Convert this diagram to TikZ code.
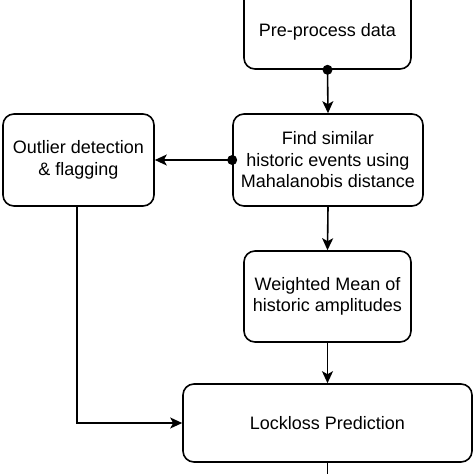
\documentclass[tikz,border=0pt]{standalone}
\usepackage{fontspec}
\setmainfont{Liberation Sans}
\usetikzlibrary{arrows.meta}
\begin{document}
\begin{tikzpicture}[x=1pt,y=-1pt,
  txt/.style={font=\fontsize{18}{21.5}\selectfont},
  box/.style={draw,line width=1.6pt,rounded corners=11pt,align=center,txt},
  conn/.style={line width=1.6pt,-{Stealth[length=12pt,width=11pt,inset=3pt]}},
  plain/.style={line width=1.6pt}]
\useasboundingbox (0,0) rectangle (474,474);
\node[box,minimum width=167pt,minimum height=84pt] (pre) at (327.5,27) {};
\node[txt] (pret) at (327.5,32) {Pre-process data};
\node[box,minimum width=190pt,minimum height=92pt] (find) at (328,160) {Find similar\\historic events using\\Mahalanobis distance};
\node[box,minimum width=151pt,minimum height=92pt] (out) at (78.5,160) {Outlier detection\\\& flagging};
\node[box,minimum width=167pt,minimum height=91pt] (wm) at (327.5,296.5) {Weighted Mean of\\historic amplitudes};
\node[box,minimum width=289pt,minimum height=78pt] (ll) at (327.5,423) {Lockloss Prediction};
\coordinate (bend) at (77,423);
\coordinate (llend) at (327.5,480);
\draw[conn] (pre.south) -- (find.north);
\fill (pre.south) circle (5pt);
\draw[conn] (find.west) -- (out.east);
\fill (find.west) circle (5pt);
\draw[conn] (find.south) -- (wm.north);
\draw[conn] (wm.south) -- (ll.north);
\draw[conn] (out.south -| bend) -- (bend) -- (ll.west);
\draw[plain] (ll.south) -- (llend);
\end{tikzpicture}
\end{document}
